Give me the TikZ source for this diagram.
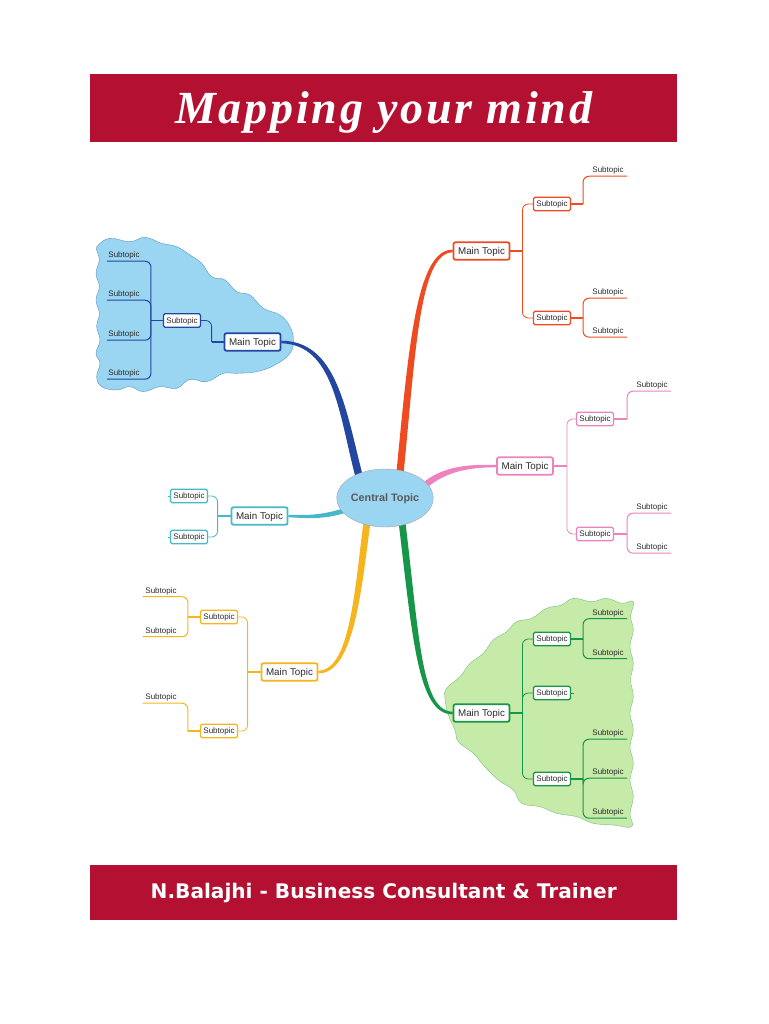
\documentclass[tikz,border=0pt]{standalone}
\usepackage{fontspec}
\setmainfont{Liberation Sans}
\newfontfamily\titlef[LetterSpace=6]{Liberation Serif}
\newfontfamily\footf{DejaVu Sans}
\usetikzlibrary{calc,shapes.geometric}
\pgfdeclarelayer{bg}
\pgfsetlayers{bg,main}
\definecolor{banner}{HTML}{B41031}
\definecolor{cR}{HTML}{EE4B23}
\definecolor{cP}{HTML}{EE82BE}
\definecolor{cB}{HTML}{2347A0}
\definecolor{cT}{HTML}{45B8CC}
\definecolor{cY}{HTML}{F5B51E}
\definecolor{cG}{HTML}{17964A}
\definecolor{ink}{HTML}{2A2A2A}
\definecolor{skyfill}{HTML}{9AD5F1}
\definecolor{skyline}{HTML}{5A96C8}
\definecolor{leaffill}{HTML}{C6EAA8}
\definecolor{leafline}{HTML}{78BE82}
\tikzset{
 bannerbox/.style={fill=banner,text=white,minimum width=587pt,inner sep=0pt,anchor=north west},
 mainbox/.style={draw=#1,fill=white,line width=1.8pt,rounded corners=2pt,minimum width=56pt,minimum height=17.5pt,inner sep=0pt,text=ink,text depth=0pt,font=\fontsize{9.8pt}{10pt}\selectfont},
 subbox/.style={draw=#1,fill=white,line width=1.1pt,rounded corners=1.5pt,minimum width=37pt,minimum height=13.5pt,inner sep=0pt,text=ink,text depth=0pt,font=\fontsize{8pt}{9pt}\selectfont},
 leaf/.style={minimum width=38pt,minimum height=12pt,inner sep=0pt,text=ink,text depth=0pt,font=\fontsize{8pt}{9pt}\selectfont},
 stubA/.style={line width=2.2pt},
 stubB/.style={line width=1.5pt},
 armA/.style={line width=.8pt,rounded corners=6pt},
 armB/.style={line width=1pt,rounded corners=6pt},
}
% colour, start, c1, c2, end, start half-offset, end half-offset, second control half-offset
\newcommand\bough[8]{%
 \fill[#1] ($(#2)+(#6)$) .. controls ($(#3)+(#6)$) and ($(#4)+(#8)$) .. ($(#5)+(#7)$)
   -- ($(#5)-(#7)$) .. controls ($(#4)-(#8)$) and ($(#3)-(#6)$) .. ($(#2)-(#6)$) -- cycle;
 \draw[#1,line width=.8pt] (#2) .. controls (#3) and (#4) .. (#5);}
\begin{document}
\begin{tikzpicture}[x=1pt,y=-1pt]
\useasboundingbox (0,0) rectangle (768,1024);
\node[bannerbox,minimum height=68pt] (top) at (90,74) {\raisebox{-15pt}[0pt][0pt]{\titlef\bfseries\itshape\fontsize{46pt}{50pt}\selectfont Mapping your mind}};
\node[bannerbox,minimum height=55pt] (bot) at (90,865) {\footf\bfseries\fontsize{20.1pt}{22pt}\selectfont N.Balajhi - Business Consultant \& Trainer};

\node[shape=ellipse,draw=gray!70,line width=.4pt,fill=skyfill,minimum width=96pt,minimum height=58pt,inner sep=0pt,text={black!65},text depth=0pt,font=\bfseries\fontsize{10.8pt}{12pt}\selectfont] (ct) at (385,498) {Central Topic};

% main topics
\node[mainbox=cR] (mR) at (481.5,251) {Main Topic};
\node[mainbox=cP] (mP) at (525,466) {Main Topic};
\node[mainbox=cB] (mB) at (252.5,342) {Main Topic};
\node[mainbox=cT] (mT) at (259.5,516) {Main Topic};
\node[mainbox=cY] (mY) at (289.5,672) {Main Topic};
\node[mainbox=cG] (mG) at (481.5,713) {Main Topic};

% subtopic boxes
\node[subbox=cR] (sR1) at (552,204) {Subtopic};
\node[subbox=cR] (sR2) at (552,318) {Subtopic};
\node[subbox=cP] (sP1) at (595,419) {Subtopic};
\node[subbox=cP] (sP2) at (595,534) {Subtopic};
\node[subbox=cB] (sB1) at (182,320.5) {Subtopic};
\node[subbox=cT] (sT1) at (189,496) {Subtopic};
\node[subbox=cT] (sT2) at (189,537) {Subtopic};
\node[subbox=cY] (sY1) at (219,617) {Subtopic};
\node[subbox=cY] (sY2) at (219,731) {Subtopic};
\node[subbox=cG] (sG1) at (552,639) {Subtopic};
\node[subbox=cG] (sG2) at (552,693) {Subtopic};
\node[subbox=cG] (sG3) at (552,779) {Subtopic};

% leaves
\node[leaf] (lR1) at (608,170) {Subtopic};
\node[leaf] (lR2) at (608,292) {Subtopic};
\node[leaf] (lR3) at (608,331) {Subtopic};
\node[leaf] (lP1) at (652,385) {Subtopic};
\node[leaf] (lP2) at (652,507) {Subtopic};
\node[leaf] (lP3) at (652,547) {Subtopic};
\node[leaf,minimum width=34pt] (lB1) at (124,255) {Subtopic};
\node[leaf,minimum width=34pt] (lB2) at (124,294) {Subtopic};
\node[leaf,minimum width=34pt] (lB3) at (124,334) {Subtopic};
\node[leaf,minimum width=34pt] (lB4) at (124,373) {Subtopic};
\node[leaf,minimum width=36pt] (lY1) at (161,590.5) {Subtopic};
\node[leaf,minimum width=36pt] (lY2) at (161,630.5) {Subtopic};
\node[leaf,minimum width=36pt] (lY3) at (161,697) {Subtopic};
\node[leaf] (lG1) at (608,612.5) {Subtopic};
\node[leaf] (lG2) at (608,652.5) {Subtopic};
\node[leaf] (lG3) at (608,733) {Subtopic};
\node[leaf] (lG4) at (608,772) {Subtopic};
\node[leaf] (lG5) at (608,812) {Subtopic};

% junctions
\coordinate (jR) at ($(mR.east)+(12,0)$);
\coordinate (jP) at ($(mP.east)+(13,0)$);
\coordinate (jB) at ($(mB.west)+(-12,0)$);
\coordinate (jT) at ($(mT.west)+(-13,0)$);
\coordinate (jY) at ($(mY.west)+(-13,0)$);
\coordinate (jG) at ($(mG.east)+(12,0)$);
\coordinate (kR1) at ($(sR1.east)+(12,0)$);
\coordinate (kR2) at ($(sR2.east)+(12,0)$);
\coordinate (kP1) at ($(sP1.east)+(13,0)$);
\coordinate (kP2) at ($(sP2.east)+(13,0)$);
\coordinate (kB1) at ($(sB1.west)+(-12,0)$);
\coordinate (kY1) at ($(sY1.west)+(-12,0)$);
\coordinate (kY2) at ($(sY2.west)+(-12,0)$);
\coordinate (kG1) at ($(sG1.east)+(12,0)$);
\coordinate (kG3) at ($(sG3.east)+(12,0)$);
\coordinate (eG2) at ($(sG2.east)+(2.5,0)$);
\coordinate (eT1) at ($(sT1.west)+(-2,0)$);
\coordinate (eT2) at ($(sT2.west)+(-2,0)$);
% ends of the main branches, hidden under the central ellipse
\coordinate (oB) at (359,476);
\coordinate (oR) at (400,473);
\coordinate (oP) at (424,486);
\coordinate (oT) at (346,510);
\coordinate (oY) at (367,522);
\coordinate (oG) at (402,522);

\begin{pgfonlayer}{bg}
 % clouds
 \begin{scope}[shift={(90,220)},x=.3333pt,y=-.3333pt]
 \draw[draw=skyline,line width=.4pt,fill=skyfill] plot[smooth cycle,tension=.7] coordinates {
  (25,75)(60,55)(120,65)(165,52)(215,70)(260,80)(300,105)(335,130)(365,170)(405,180)(440,215)(480,225)(520,265)(570,285)(600,320)(610,360)(600,400)(555,435)(500,455)(440,460)(400,460)(350,485)(300,478)(260,505)(210,500)(160,515)(120,500)(80,510)(35,500)(20,470)(30,430)(18,400)(30,360)(20,320)(28,280)(18,240)(28,200)(18,160)(28,120)(20,90)};
 \end{scope}
 \begin{scope}[shift={(400,590)},x=.3333pt,y=-.3333pt]
 \draw[draw=leafline,line width=.4pt,fill=leaffill] plot[smooth cycle,tension=.7] coordinates {
  (700,35)(665,40)(620,25)(575,35)(520,25)(485,45)(440,55)(395,85)(350,95)(320,125)(280,150)(250,190)(210,220)(180,260)(140,295)(135,325)(145,375)(165,420)(175,455)(220,490)(250,525)(295,570)(340,600)(365,640)(420,650)(470,670)(530,680)(580,700)(640,705)(695,710)(690,670)(700,620)(690,570)(700,520)(690,470)(700,420)(690,370)(700,320)(692,270)(700,220)(690,170)(700,120)(692,80)};
 \end{scope}
 % main branches
 \bough{cB}{oB}{342,410}{335,343}{mB.east}{3.6,-1}{0,-1.3}{1.8,-1.8}
 \bough{cR}{oR}{412,350}{418,251}{mR.west}{3.6,.3}{0,1.3}{1.8,1.8}
 \bough{cP}{oP}{445,468}{470,466}{mP.west}{1.9,2.5}{0,1.2}{.3,1.6}
 \bough{cT}{oT}{325,517}{310,517}{mT.east}{.8,2.3}{0,1.2}{0,1.5}
 \bough{cY}{oY}{358,590}{352,672}{mY.east}{3.4,.5}{0,1.3}{1.8,1.8}
 \bough{cG}{oG}{416,640}{420,713}{mG.west}{3.4,-.2}{0,-1.3}{1.8,-1.8}
 % red
 \draw[cR,stubA] (mR.east) -- (jR);
 \draw[cR,armA] (jR) |- (sR1.west);
 \draw[cR,armA] (jR) |- (sR2.west);
 \draw[cR,stubB] (sR1.east) -- (kR1);
 \draw[cR,stubB] (sR2.east) -- (kR2);
 \draw[cR,armB] (kR1) |- (lR1.south east);
 \draw[cR,armB] (kR2) |- (lR2.south east);
 \draw[cR,armB] (kR2) |- (lR3.south east);
 % pink
 \draw[cP,stubA] (mP.east) -- (jP);
 \draw[cP,armA] (jP) |- (sP1.west);
 \draw[cP,armA] (jP) |- (sP2.west);
 \draw[cP,stubB] (sP1.east) -- (kP1);
 \draw[cP,stubB] (sP2.east) -- (kP2);
 \draw[cP,armB] (kP1) |- (lP1.south east);
 \draw[cP,armB] (kP2) |- (lP2.south east);
 \draw[cP,armB] (kP2) |- (lP3.south east);
 % blue
 \draw[cB,stubA] (mB.west) -- (jB);
 \draw[cB,armA] (jB) |- (sB1.east);
 \draw[cB,stubB] (sB1.west) -- (kB1);
 \draw[cB,armB] (kB1) |- (lB1.south west);
 \draw[cB,armB] (kB1) |- (lB2.south west);
 \draw[cB,armB] (kB1) |- (lB3.south west);
 \draw[cB,armB] (kB1) |- (lB4.south west);
 % teal
 \draw[cT,stubA] (mT.west) -- (jT);
 \draw[cT,armA] (jT) |- (sT1.east);
 \draw[cT,armA] (jT) |- (sT2.east);
 \draw[cT,line width=.8pt] (sT1.west) -- (eT1);
 \draw[cT,line width=.8pt] (sT2.west) -- (eT2);
 % yellow
 \draw[cY,stubA] (mY.west) -- (jY);
 \draw[cY,armA] (jY) |- (sY1.east);
 \draw[cY,armA] (jY) |- (sY2.east);
 \draw[cY,stubB] (sY1.west) -- (kY1);
 \draw[cY,stubB] (sY2.west) -- (kY2);
 \draw[cY,armB] (kY1) |- (lY1.south west);
 \draw[cY,armB] (kY1) |- (lY2.south west);
 \draw[cY,armB] (kY2) |- (lY3.south west);
 % green
 \draw[cG,stubA] (mG.east) -- (jG);
 \draw[cG,armA] (jG) |- (sG1.west);
 \draw[cG,armA] (jG) |- (sG2.west);
 \draw[cG,armA] (jG) |- (sG3.west);
 \draw[cG,stubB] (sG1.east) -- (kG1);
 \draw[cG,line width=.8pt] (sG2.east) -- (eG2);
 \draw[cG,stubB] (sG3.east) -- (kG3);
 \draw[cG,armB] (kG1) |- (lG1.south east);
 \draw[cG,armB] (kG1) |- (lG2.south east);
 \draw[cG,armB] (kG3) |- (lG3.south east);
 \draw[cG,armB] (kG3) |- (lG4.south east);
 \draw[cG,armB] (kG3) |- (lG5.south east);
\end{pgfonlayer}
\end{tikzpicture}
\end{document}
